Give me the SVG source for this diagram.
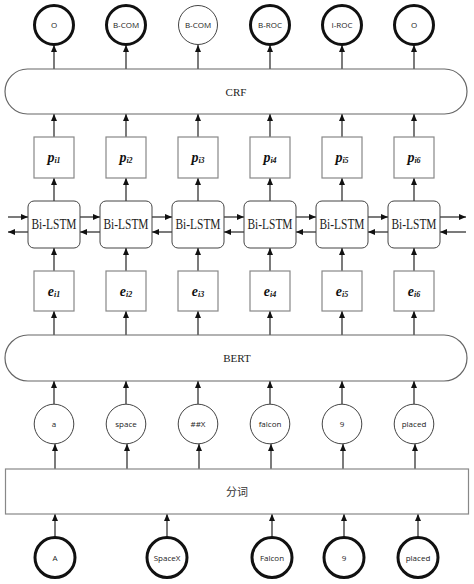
<svg xmlns="http://www.w3.org/2000/svg" width="474" height="584" viewBox="0 0 474 584">
<defs>
<marker id="ah" markerUnits="userSpaceOnUse" markerWidth="7" markerHeight="6" refX="7" refY="3" orient="auto">
<path d="M0,0 L7,3 L0,6 z" fill="#111"/>
</marker>
<style>
.bg{fill:#fff}
.thick{fill:#fff;stroke:#111;stroke-width:3}
.thin{fill:#fff;stroke:#444;stroke-width:1}
.box{fill:#fff;stroke:#888;stroke-width:1.2}
.lstm{fill:#fff;stroke:#444;stroke-width:1}
.band{fill:#fff;stroke:#666;stroke-width:1.2}
.c{stroke:#333;stroke-width:1.3;fill:none;marker-end:url(#ah)}
.lab{font-family:"Open Sans","DejaVu Sans",sans-serif;font-size:8px;fill:#222;text-anchor:middle}
.ser{font-family:"Liberation Serif","Times New Roman",serif;fill:#222;text-anchor:middle}
.math{font-family:"Liberation Serif","Times New Roman",serif;font-weight:bold;font-style:italic;fill:#111;text-anchor:middle}
.cjk{font-family:"Liberation Sans","Noto Sans CJK SC",sans-serif;font-size:11px;fill:#333;text-anchor:middle}
</style>
</defs>
<rect class="bg" x="0" y="0" width="474" height="584"/>

<g id="connectors">
<!-- CRF to top circles -->
<line class="c" x1="54" y1="69" x2="54" y2="45"/>
<line class="c" x1="126" y1="69" x2="126" y2="45"/>
<line class="c" x1="198" y1="69" x2="198" y2="45"/>
<line class="c" x1="270" y1="69" x2="270" y2="45"/>
<line class="c" x1="342" y1="69" x2="342" y2="45"/>
<line class="c" x1="414" y1="69" x2="414" y2="45"/>
<!-- p to CRF -->
<line class="c" x1="54" y1="137" x2="54" y2="114"/>
<line class="c" x1="126" y1="137" x2="126" y2="114"/>
<line class="c" x1="198" y1="137" x2="198" y2="114"/>
<line class="c" x1="270" y1="137" x2="270" y2="114"/>
<line class="c" x1="342" y1="137" x2="342" y2="114"/>
<line class="c" x1="414" y1="137" x2="414" y2="114"/>
<!-- LSTM to p -->
<line class="c" x1="54" y1="201" x2="54" y2="178"/>
<line class="c" x1="126" y1="201" x2="126" y2="178"/>
<line class="c" x1="198" y1="201" x2="198" y2="178"/>
<line class="c" x1="270" y1="201" x2="270" y2="178"/>
<line class="c" x1="342" y1="201" x2="342" y2="178"/>
<line class="c" x1="414" y1="201" x2="414" y2="178"/>
<!-- e to LSTM -->
<line class="c" x1="54" y1="272" x2="54" y2="248"/>
<line class="c" x1="126" y1="272" x2="126" y2="248"/>
<line class="c" x1="198" y1="272" x2="198" y2="248"/>
<line class="c" x1="270" y1="272" x2="270" y2="248"/>
<line class="c" x1="342" y1="272" x2="342" y2="248"/>
<line class="c" x1="414" y1="272" x2="414" y2="248"/>
<!-- horizontal LSTM arrows -->
<line class="c" x1="8" y1="217" x2="28" y2="217"/>
<line class="c" x1="28" y1="232" x2="8" y2="232"/>
<line class="c" x1="80" y1="217" x2="100" y2="217"/>
<line class="c" x1="100" y1="232" x2="80" y2="232"/>
<line class="c" x1="152" y1="217" x2="172" y2="217"/>
<line class="c" x1="172" y1="232" x2="152" y2="232"/>
<line class="c" x1="224" y1="217" x2="244" y2="217"/>
<line class="c" x1="244" y1="232" x2="224" y2="232"/>
<line class="c" x1="296" y1="217" x2="316" y2="217"/>
<line class="c" x1="316" y1="232" x2="296" y2="232"/>
<line class="c" x1="368" y1="217" x2="388" y2="217"/>
<line class="c" x1="388" y1="232" x2="368" y2="232"/>
<line class="c" x1="440" y1="217" x2="466" y2="217"/>
<line class="c" x1="466" y1="232" x2="440" y2="232"/>
<!-- BERT to e -->
<line class="c" x1="54" y1="335" x2="54" y2="311"/>
<line class="c" x1="126" y1="335" x2="126" y2="311"/>
<line class="c" x1="198" y1="335" x2="198" y2="311"/>
<line class="c" x1="270" y1="335" x2="270" y2="311"/>
<line class="c" x1="342" y1="335" x2="342" y2="311"/>
<line class="c" x1="414" y1="335" x2="414" y2="311"/>
<!-- mid circles to BERT -->
<line class="c" x1="54" y1="404" x2="54" y2="381"/>
<line class="c" x1="126" y1="404" x2="126" y2="381"/>
<line class="c" x1="198" y1="404" x2="198" y2="381"/>
<line class="c" x1="270" y1="404" x2="270" y2="381"/>
<line class="c" x1="342" y1="404" x2="342" y2="381"/>
<line class="c" x1="414" y1="404" x2="414" y2="381"/>
<!-- seg box to mid circles -->
<line class="c" x1="55" y1="469" x2="55" y2="444"/>
<line class="c" x1="127" y1="469" x2="127" y2="444"/>
<line class="c" x1="199" y1="469" x2="199" y2="444"/>
<line class="c" x1="271" y1="469" x2="271" y2="444"/>
<line class="c" x1="343" y1="469" x2="343" y2="444"/>
<line class="c" x1="415" y1="469" x2="415" y2="444"/>
<!-- bottom circles to seg box -->
<line class="c" x1="55" y1="537" x2="55" y2="514"/>
<line class="c" x1="167" y1="537" x2="167" y2="514"/>
<line class="c" x1="272" y1="537" x2="272" y2="514"/>
<line class="c" x1="344" y1="537" x2="344" y2="514"/>
<line class="c" x1="418" y1="537" x2="418" y2="514"/>
</g>

<g id="out1"><circle class="thick" cx="54" cy="25" r="19.5"/><text class="lab" x="54" y="28">O</text></g>
<g id="out2"><circle class="thick" cx="126" cy="25" r="19.5"/><text class="lab" x="126" y="28">B-COM</text></g>
<g id="out3"><circle class="thin" cx="198" cy="25" r="19.5"/><text class="lab" x="198" y="28">B-COM</text></g>
<g id="out4"><circle class="thick" cx="270" cy="25" r="19.5"/><text class="lab" x="270" y="28">B-ROC</text></g>
<g id="out5"><circle class="thick" cx="342" cy="25" r="19.5"/><text class="lab" x="342" y="28">I-ROC</text></g>
<g id="out6"><circle class="thick" cx="414" cy="25" r="19.5"/><text class="lab" x="414" y="28">O</text></g>

<g id="crf"><rect class="band" x="5" y="69" width="462" height="45" rx="22.5" ry="22.5"/><text class="ser" x="236" y="96" font-size="11">CRF</text></g>

<g id="p1"><rect class="box" x="34" y="137" width="40" height="41"/><text class="math" x="54" y="162" font-size="14">p<tspan font-size="8" dy="1">i1</tspan></text></g>
<g id="p2"><rect class="box" x="106" y="137" width="40" height="41"/><text class="math" x="126" y="162" font-size="14">p<tspan font-size="8" dy="1">i2</tspan></text></g>
<g id="p3"><rect class="box" x="178" y="137" width="40" height="41"/><text class="math" x="198" y="162" font-size="14">p<tspan font-size="8" dy="1">i3</tspan></text></g>
<g id="p4"><rect class="box" x="250" y="137" width="40" height="41"/><text class="math" x="270" y="162" font-size="14">p<tspan font-size="8" dy="1">i4</tspan></text></g>
<g id="p5"><rect class="box" x="322" y="137" width="40" height="41"/><text class="math" x="342" y="162" font-size="14">p<tspan font-size="8" dy="1">i5</tspan></text></g>
<g id="p6"><rect class="box" x="394" y="137" width="40" height="41"/><text class="math" x="414" y="162" font-size="14">p<tspan font-size="8" dy="1">i6</tspan></text></g>

<g id="lstm1"><rect class="lstm" x="28" y="201" width="52" height="47" rx="6"/><text class="ser" x="54" y="229" font-size="14" textLength="45" lengthAdjust="spacingAndGlyphs">Bi-LSTM</text></g>
<g id="lstm2"><rect class="lstm" x="100" y="201" width="52" height="47" rx="6"/><text class="ser" x="126" y="229" font-size="14" textLength="45" lengthAdjust="spacingAndGlyphs">Bi-LSTM</text></g>
<g id="lstm3"><rect class="lstm" x="172" y="201" width="52" height="47" rx="6"/><text class="ser" x="198" y="229" font-size="14" textLength="45" lengthAdjust="spacingAndGlyphs">Bi-LSTM</text></g>
<g id="lstm4"><rect class="lstm" x="244" y="201" width="52" height="47" rx="6"/><text class="ser" x="270" y="229" font-size="14" textLength="45" lengthAdjust="spacingAndGlyphs">Bi-LSTM</text></g>
<g id="lstm5"><rect class="lstm" x="316" y="201" width="52" height="47" rx="6"/><text class="ser" x="342" y="229" font-size="14" textLength="45" lengthAdjust="spacingAndGlyphs">Bi-LSTM</text></g>
<g id="lstm6"><rect class="lstm" x="388" y="201" width="52" height="47" rx="6"/><text class="ser" x="414" y="229" font-size="14" textLength="45" lengthAdjust="spacingAndGlyphs">Bi-LSTM</text></g>

<g id="e1"><rect class="box" x="34" y="271" width="40" height="40"/><text class="math" x="54" y="296" font-size="14">e<tspan font-size="8" dy="1">i1</tspan></text></g>
<g id="e2"><rect class="box" x="106" y="271" width="40" height="40"/><text class="math" x="126" y="296" font-size="14">e<tspan font-size="8" dy="1">i2</tspan></text></g>
<g id="e3"><rect class="box" x="178" y="271" width="40" height="40"/><text class="math" x="198" y="296" font-size="14">e<tspan font-size="8" dy="1">i3</tspan></text></g>
<g id="e4"><rect class="box" x="250" y="271" width="40" height="40"/><text class="math" x="270" y="296" font-size="14">e<tspan font-size="8" dy="1">i4</tspan></text></g>
<g id="e5"><rect class="box" x="322" y="271" width="40" height="40"/><text class="math" x="342" y="296" font-size="14">e<tspan font-size="8" dy="1">i5</tspan></text></g>
<g id="e6"><rect class="box" x="394" y="271" width="40" height="40"/><text class="math" x="414" y="296" font-size="14">e<tspan font-size="8" dy="1">i6</tspan></text></g>

<g id="bert"><rect class="band" x="5" y="335" width="462" height="46" rx="23" ry="23"/><text class="ser" x="237" y="362" font-size="11">BERT</text></g>

<g id="t1"><circle class="thin" cx="54" cy="424" r="19.8"/><text class="lab" x="54" y="427">a</text></g>
<g id="t2"><circle class="thin" cx="126" cy="424" r="19.8"/><text class="lab" x="126" y="427">space</text></g>
<g id="t3"><circle class="thin" cx="198" cy="424" r="19.8"/><text class="lab" x="198" y="427">##X</text></g>
<g id="t4"><circle class="thin" cx="270" cy="424" r="19.8"/><text class="lab" x="270" y="427">falcon</text></g>
<g id="t5"><circle class="thin" cx="342" cy="424" r="19.8"/><text class="lab" x="342" y="427">9</text></g>
<g id="t6"><circle class="thin" cx="414" cy="424" r="19.8"/><text class="lab" x="414" y="427">placed</text></g>

<g id="seg"><rect class="box" x="5.5" y="469" width="463" height="45"/><text class="cjk" x="237" y="496">分词</text></g>

<g id="w1"><circle class="thick" cx="55" cy="557.5" r="20"/><text class="lab" x="55" y="560.5">A</text></g>
<g id="w2"><circle class="thick" cx="167" cy="557.5" r="20"/><text class="lab" x="167" y="560.5">SpaceX</text></g>
<g id="w3"><circle class="thick" cx="272" cy="557.5" r="20"/><text class="lab" x="272" y="560.5">Falcon</text></g>
<g id="w4"><circle class="thick" cx="344" cy="557.5" r="20"/><text class="lab" x="344" y="560.5">9</text></g>
<g id="w5"><circle class="thick" cx="418" cy="557.5" r="20"/><text class="lab" x="418" y="560.5">placed</text></g>
</svg>
